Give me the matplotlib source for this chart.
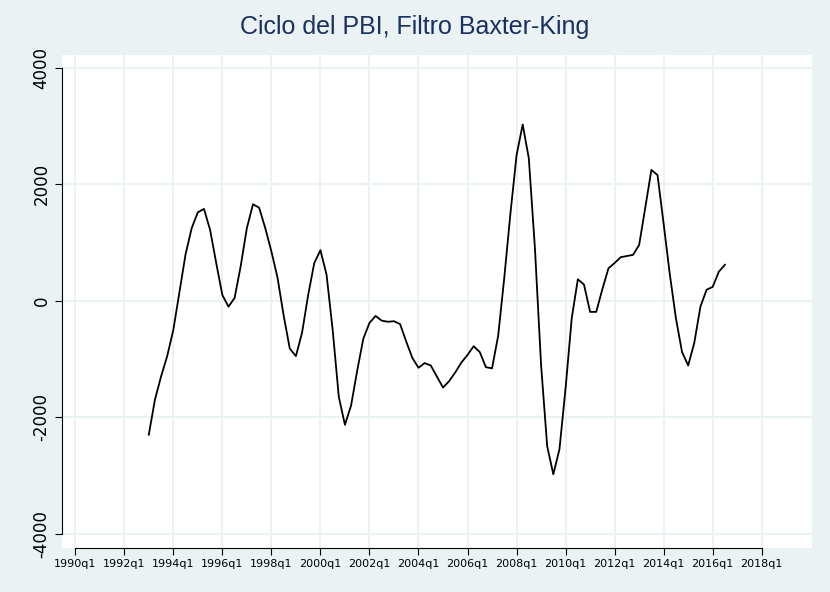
import matplotlib
matplotlib.use("Agg")
import matplotlib.pyplot as plt
import numpy as np

start_year = 1993
cycle = [-2300,-1700,-1300,-950, -500,150,800,1250, 1520,1580,1220,650,
         100,-100,50,600, 1250,1660,1600,1250, 850,400,-250,-820,
         -950,-550,100,650, 870,450,-500,-1650, -2130,-1800,-1200,-650,
         -380,-260,-340,-360, -350,-400,-700,-980, -1150,-1070,-1110,-1300,
         -1490,-1380,-1230,-1060, -930,-780,-880,-1140, -1160,-600,400,1500,
         2500,3030,2450,900, -1100,-2500,-2980,-2550, -1500,-300,370,280,
         -190,-190,200,560, 650,750,770,790, 960,1600,2250,2160,
         1320,460,-300,-880, -1110,-720,-100,190, 240,500,620]
tick_years = list(range(1990, 2019, 2))
tick_labels = [f"{y}q1" for y in tick_years]
y_ticks = [-4000, -2000, 0, 2000, 4000]

t = start_year + np.arange(len(cycle)) / 4.0

fig = plt.figure(figsize=(8.3, 5.92), dpi=100, facecolor="#eaf2f3")
ax = fig.add_axes([0.075, 0.075, 0.903, 0.832])
ax.set_facecolor("white")
ax.plot(t, cycle, color="black", lw=1.3)
ax.set_xlim(1989.47, 2020.04)
ax.set_ylim(-4240, 4223)
ax.set_xticks(tick_years)
ax.set_xticklabels(tick_labels, fontsize=8)
ax.set_yticks(y_ticks)
ax.set_yticklabels([str(v) for v in y_ticks], rotation=90, va="center", fontsize=12)
ax.grid(True, color="#eaf2f3", lw=1.5)
ax.set_axisbelow(True)
for s in ["top", "right"]:
    ax.spines[s].set_visible(False)
ax.spines["left"].set_bounds(-4000, 4000)
ax.spines["bottom"].set_bounds(1990, 2018)
ax.tick_params(length=5)
fig.suptitle("Ciclo del PBI, Filtro Baxter-King", color="#1a3060",
             fontsize=18, y=0.975, family=["Liberation Sans", "DejaVu Sans"])
fig.savefig("out.png", facecolor=fig.get_facecolor())
